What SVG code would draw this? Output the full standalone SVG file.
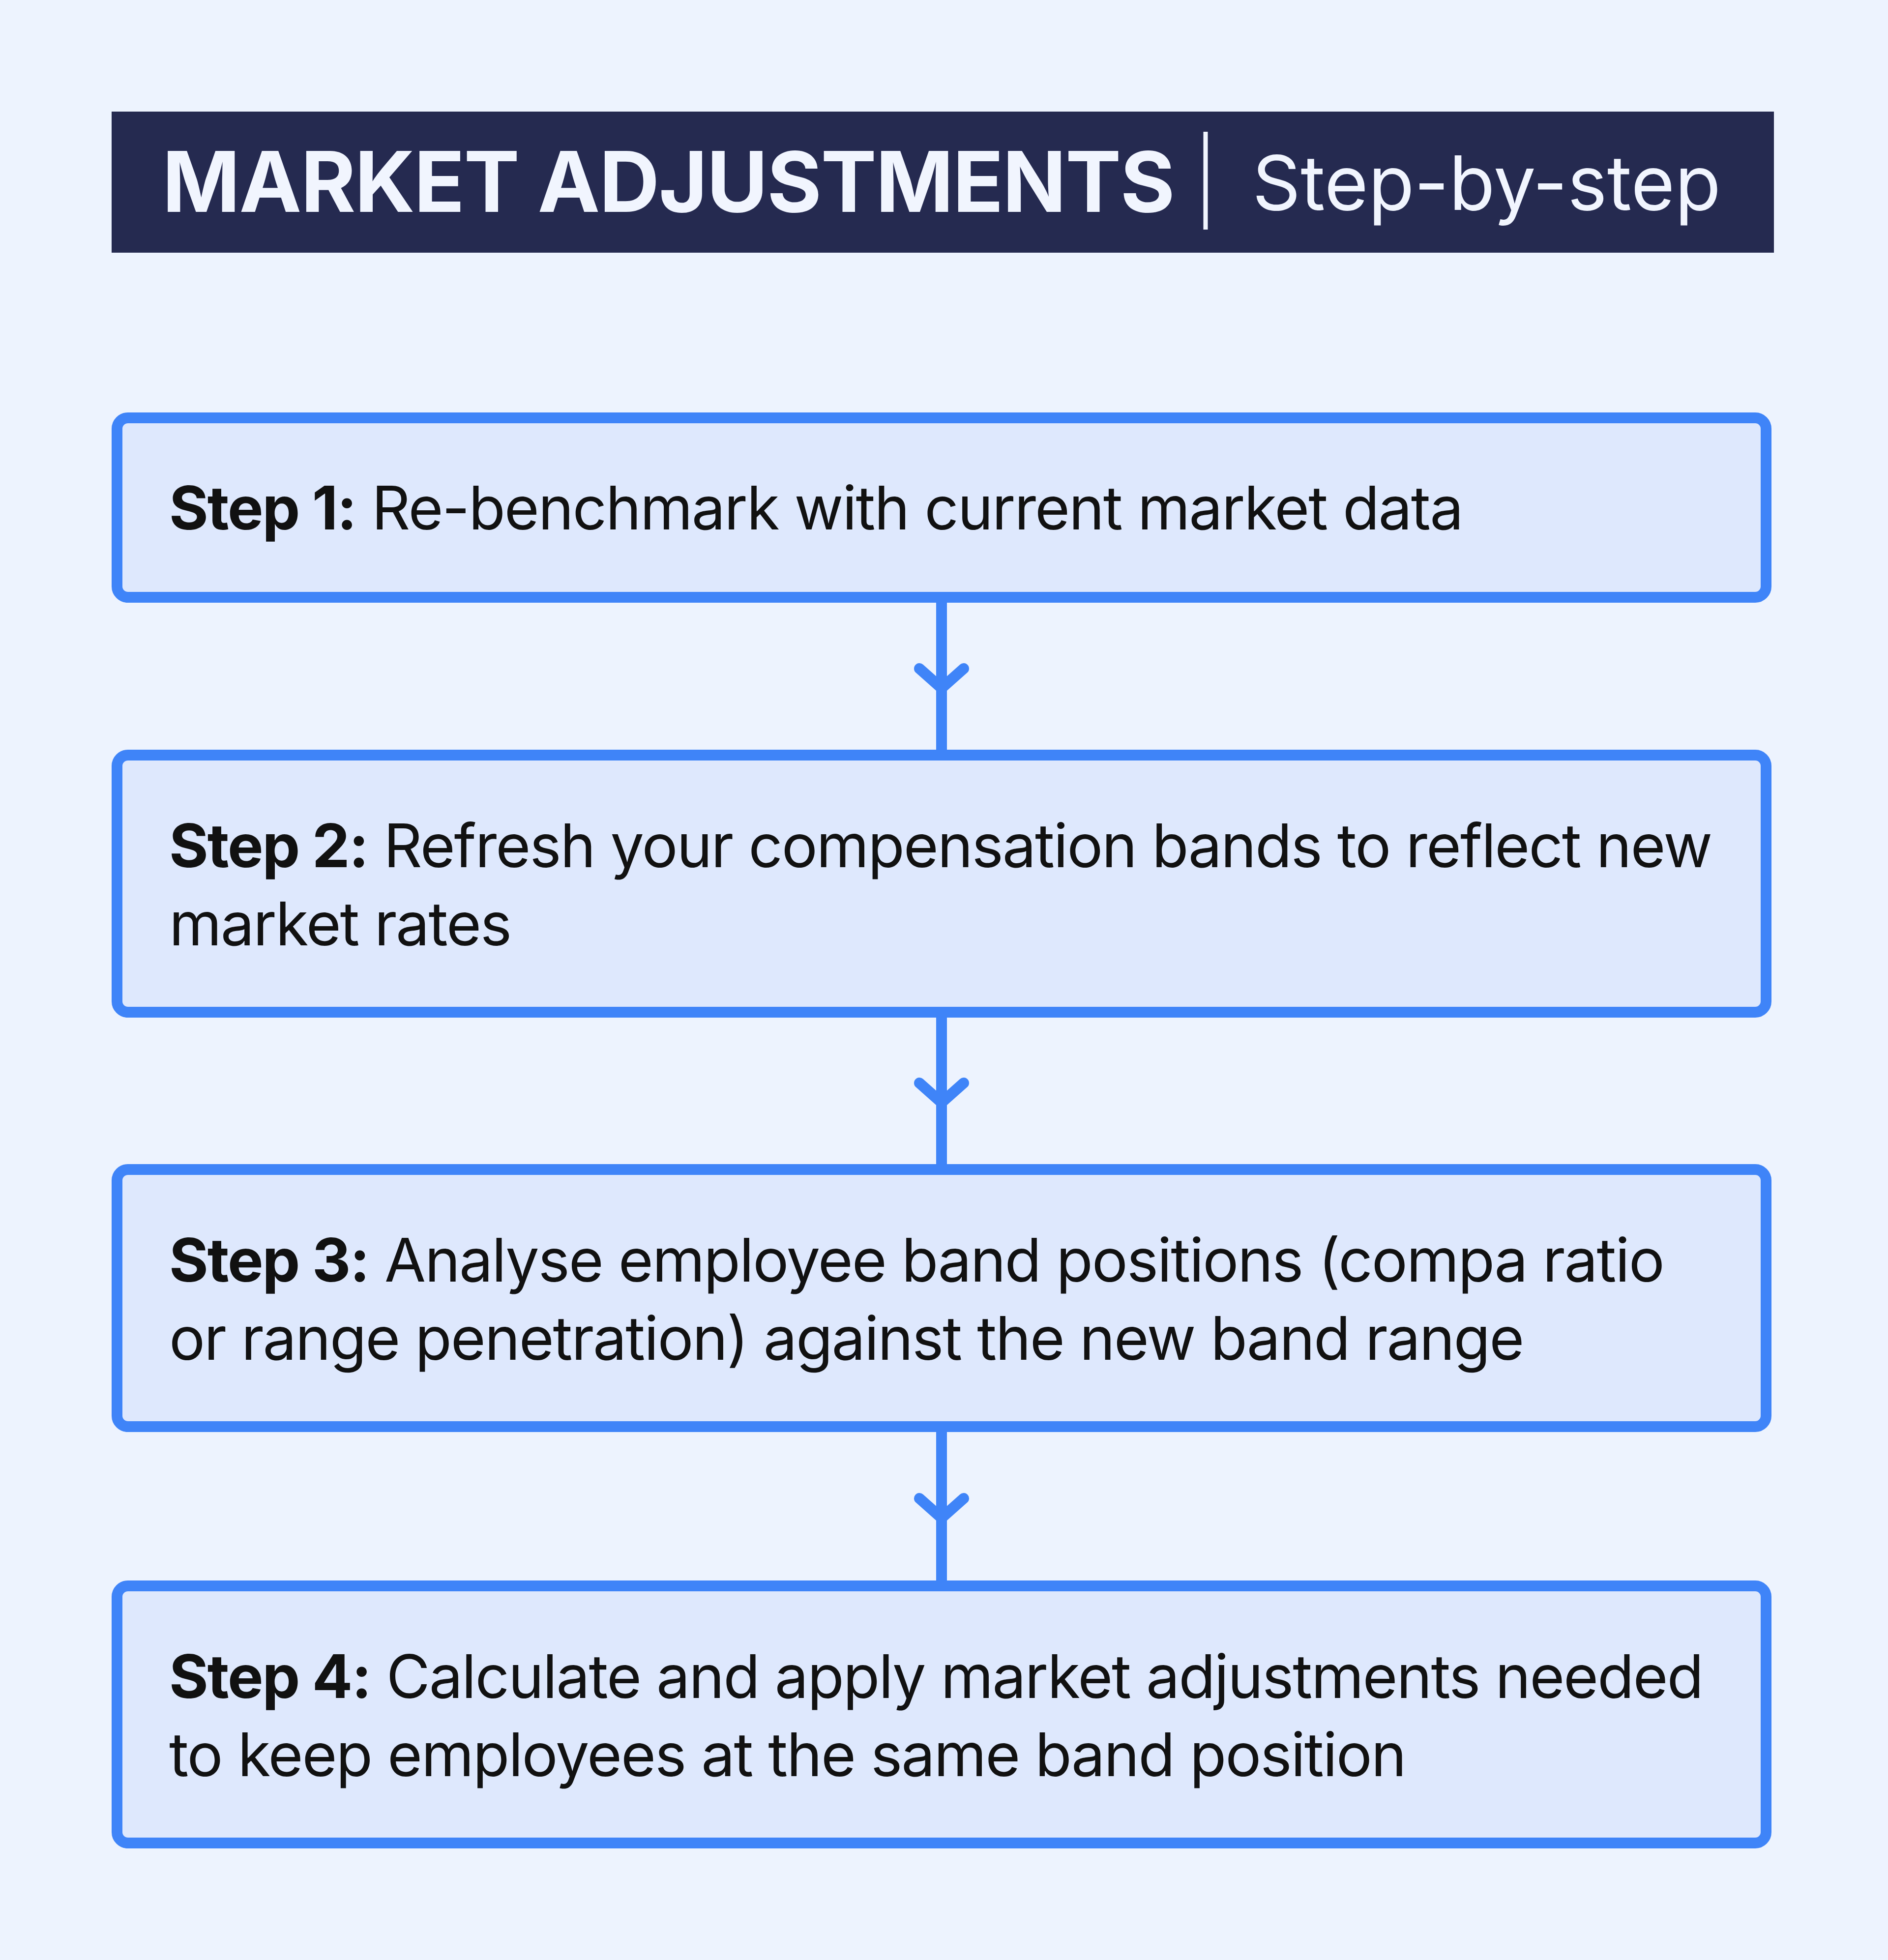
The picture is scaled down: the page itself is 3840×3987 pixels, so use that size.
<svg xmlns="http://www.w3.org/2000/svg" width="3840" height="3987" viewBox="0 0 3840 3987">
  <defs>
    <style>
      .bg { fill: #EDF3FE; }
      .header { fill: #252A50; }
      .title { font-family: Inter, "Noto Sans", "Liberation Sans", sans-serif; font-weight: 700; font-size: 170px; letter-spacing: -1.8px; fill: #F1F5FE; }
      .subtitle { font-family: Inter, "Noto Sans", "Liberation Sans", sans-serif; font-weight: 400; font-size: 153px; fill: #F1F5FE; }
      .divider { stroke: #F1F5FE; stroke-width: 9; }
      .box { fill: #DEE8FD; stroke: #3F84F8; stroke-width: 22; }
      .txt { font-family: Inter, "Noto Sans", "Liberation Sans", sans-serif; font-weight: 400; font-size: 122px; letter-spacing: -2.2px; fill: #111111; }
      .txt .b { font-weight: 700; }
      .conn { fill: none; stroke: #3F84F8; stroke-width: 22; stroke-linecap: round; stroke-linejoin: round; }
    </style>
  </defs>
  <rect class="bg" x="0" y="0" width="3840" height="3987"/>

  <g id="header">
    <rect class="header" x="227" y="227" width="3381" height="287"/>
    <text class="title" x="330" y="431">MARKET ADJUSTMENTS</text>
    <line class="divider" x1="2452" y1="268" x2="2452" y2="467"/>
    <text class="subtitle" x="2547" y="427">Step-by-step</text>
  </g>

  <g id="connectors">
    <line class="conn" x1="1915" y1="1226" x2="1915" y2="1525" stroke-linecap="butt"/>
    <polyline class="conn" points="1870,1360 1915,1400 1960,1360"/>
    <line class="conn" x1="1915" y1="2070" x2="1915" y2="2368" stroke-linecap="butt"/>
    <polyline class="conn" points="1870,2203 1915,2243 1960,2203"/>
    <line class="conn" x1="1915" y1="2913" x2="1915" y2="3215" stroke-linecap="butt"/>
    <polyline class="conn" points="1870,3048 1915,3088 1960,3048"/>
  </g>

  <g id="step1">
    <rect class="box" x="238" y="850" width="3354" height="365" rx="22" ry="22"/>
    <text class="txt" x="344" y="1077"><tspan class="b">Step 1:</tspan> Re-benchmark with current market data</text>
  </g>

  <g id="step2">
    <rect class="box" x="238" y="1536" width="3354" height="523" rx="22" ry="22"/>
    <text class="txt" x="344" y="1764"><tspan class="b">Step 2:</tspan> Refresh your compensation bands to reflect new</text>
    <text class="txt" x="344" y="1923">market rates</text>
  </g>

  <g id="step3">
    <rect class="box" x="238" y="2379" width="3354" height="523" rx="22" ry="22"/>
    <text class="txt" x="344" y="2607"><tspan class="b">Step 3:</tspan> Analyse employee band positions (compa ratio</text>
    <text class="txt" x="344" y="2766">or range penetration) against the new band range</text>
  </g>

  <g id="step4">
    <rect class="box" x="238" y="3226" width="3354" height="523" rx="22" ry="22"/>
    <text class="txt" x="344" y="3454"><tspan class="b">Step 4:</tspan> Calculate and apply market adjustments needed</text>
    <text class="txt" x="344" y="3613">to keep employees at the same band position</text>
  </g>
</svg>
